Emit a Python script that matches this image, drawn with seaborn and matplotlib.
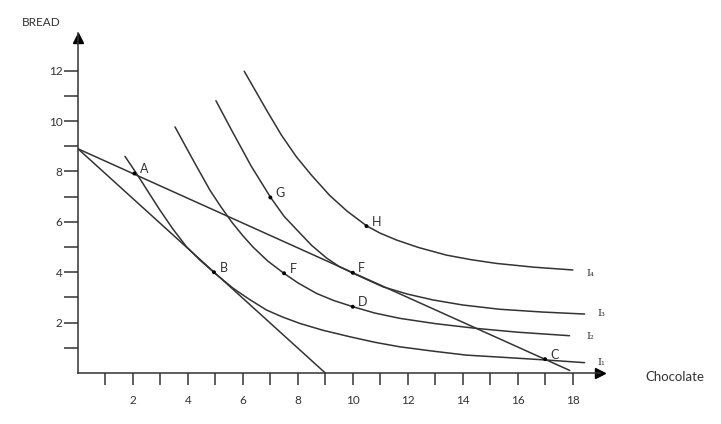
import matplotlib
matplotlib.use("Agg")
import matplotlib.pyplot as plt
import seaborn as sns
import pandas as pd

# indifference curves, points (chocolate, bread)
i1_x = [1.71, 2.13, 2.55, 2.98, 3.45, 3.95, 4.45, 4.98, 5.65, 6.2, 6.86, 7.45, 8.07, 8.9, 9.89,
        10.8, 11.71, 12.9, 14.13, 15.5, 16.98, 18.44]
i1_y = [8.6, 7.92, 7.2, 6.47, 5.72, 5.01, 4.47, 3.96, 3.36, 2.95, 2.50, 2.22, 1.97, 1.70, 1.44,
        1.22, 1.04, 0.87, 0.71, 0.62, 0.52, 0.41]
i2_x = [3.53, 4.19, 4.80, 5.2, 5.59, 6.0, 6.37, 6.9, 7.49, 8.0, 8.68, 9.3, 10.01, 10.8, 11.71,
        13.0, 14.5, 16.0, 17.89]
i2_y = [9.77, 8.45, 7.26, 6.6, 6.0, 5.45, 5.0, 4.45, 3.96, 3.58, 3.16, 2.88, 2.63, 2.38, 2.17,
        1.96, 1.77, 1.62, 1.48]
i3_x = [5.02, 5.6, 6.3, 7.01, 7.5, 7.95, 8.5, 9.04, 9.5, 10.01, 11.10, 12.0, 12.92, 14.0, 15.35,
        16.9, 18.44]
i3_y = [10.81, 9.62, 8.22, 6.97, 6.22, 5.7, 5.07, 4.57, 4.23, 3.96, 3.42, 3.13, 2.90, 2.70, 2.53,
        2.42, 2.34]
i4_x = [6.05, 6.86, 7.4, 7.95, 8.5, 9.16, 9.8, 10.52, 11.0, 11.59, 12.4, 13.41, 14.3, 15.23, 16.6,
        18.01]
i4_y = [11.98, 10.44, 9.45, 8.58, 7.85, 7.05, 6.42, 5.83, 5.55, 5.28, 4.98, 4.68, 4.5, 4.35, 4.2,
        4.09]
curve_names = ["I\u2081", "I\u2082", "I\u2083", "I\u2084"]

# budget lines
budget1_x = [0, 9]
budget1_y = [8.9, 0]
budget2_x = [0, 17.9]
budget2_y = [8.9, 0.1]

# labelled bundles
pt_names = ["A", "B", "F", "F", "G", "H", "D", "C"]
pt_x = [2.05, 4.95, 7.5, 10.0, 7.0, 10.5, 10.0, 17.0]
pt_y = [7.92, 4.0, 3.96, 3.98, 6.97, 5.83, 2.63, 0.55]

x_ticks = list(range(1, 19))
y_ticks = list(range(1, 13))


def main():
    sns.set_style("white")
    plt.rcParams['font.family'] = ['Lato', 'DejaVu Sans']
    ink = '#333333'

    fig = plt.figure(figsize=(7.21, 4.24), dpi=100)
    ax = fig.add_axes([0.1082, 0.1203, 0.724, 0.802])

    curves = [(i1_x, i1_y), (i2_x, i2_y), (i3_x, i3_y), (i4_x, i4_y)]
    for cx, cy in curves:
        sns.lineplot(x=cx, y=cy, ax=ax, color=ink, lw=1.1, sort=False, estimator=None)

    for bx, by in [(budget1_x, budget1_y), (budget2_x, budget2_y)]:
        sns.lineplot(x=bx, y=by, ax=ax, color=ink, lw=1.1, sort=False, estimator=None)

    pts = pd.DataFrame({'x': pt_x, 'y': pt_y, 'name': pt_names})
    sns.scatterplot(data=pts, x='x', y='y', ax=ax, color='black', s=8, edgecolor='none', zorder=5)
    for _, row in pts.iterrows():
        ax.text(row['x'] + 0.2, row['y'] + 0.17, row['name'], fontsize=9, color=ink,
                ha='left', va='center')

    # curve labels at right end
    label_pos = [(18.9, 0.4), (18.5, 1.45), (18.9, 2.35), (18.5, 3.95)]
    for name, (lx, ly) in zip(curve_names, label_pos):
        ax.text(lx, ly, name, fontsize=7, color=ink, family=['DejaVu Serif'],
                ha='left', va='center', clip_on=False)

    ax.set_xlim(0, 19)
    ax.set_ylim(0, 13.5)
    ax.set_xlabel('')
    ax.set_ylabel('')
    for side in ['top', 'right']:
        ax.spines[side].set_visible(False)
    for side in ['left', 'bottom']:
        ax.spines[side].set_color(ink)
        ax.spines[side].set_linewidth(1.1)
    ax.plot(1, 0, ">", color='black', ms=7, transform=ax.get_yaxis_transform(), clip_on=False)
    ax.plot(0, 0.985, "^", color='black', ms=7, transform=ax.get_xaxis_transform(), clip_on=False)

    ax.set_xticks(x_ticks)
    ax.set_xticklabels([str(t) if t % 2 == 0 else '' for t in x_ticks])
    ax.set_yticks(y_ticks)
    ax.set_yticklabels([str(t) if t % 2 == 0 else '' for t in y_ticks])
    ax.tick_params(axis='x', direction='out', length=8.5, width=1.1, color=ink,
                   labelsize=8.5, labelcolor=ink, pad=7, bottom=True)
    ax.tick_params(axis='y', direction='out', length=10, width=1.1, color=ink,
                   labelsize=8.5, labelcolor=ink, pad=1, left=True)

    fig.text(22 / 721, 1 - 22 / 424, 'BREAD', fontsize=8.5, color=ink, ha='left', va='center')
    fig.text(645 / 721, 1 - 377 / 424, 'Chocolate', fontsize=9.5, color=ink, ha='left', va='center')

    fig.savefig("out.png", dpi=100)
    plt.close(fig)


if __name__ == "__main__":
    main()
